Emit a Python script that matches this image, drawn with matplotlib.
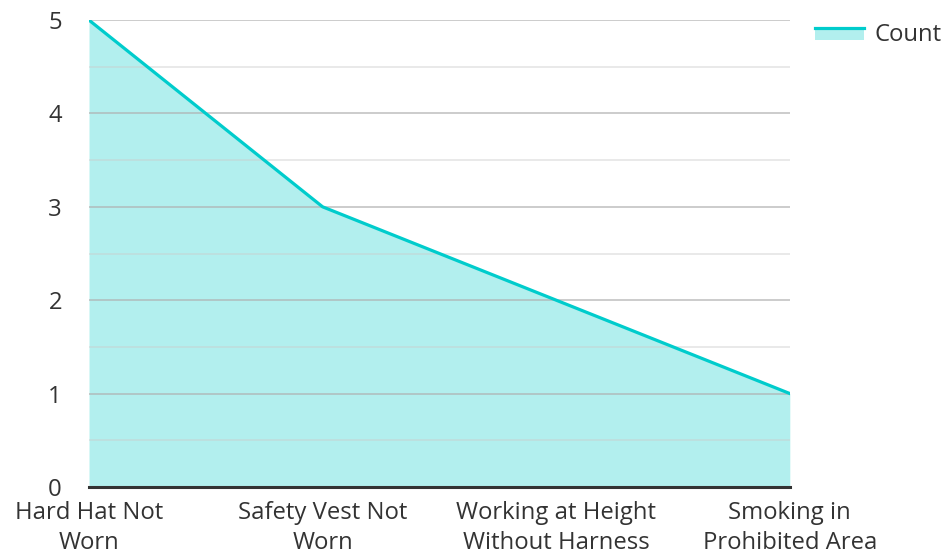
import matplotlib
matplotlib.use("Agg")
import matplotlib.pyplot as plt
from matplotlib.patches import Rectangle
from matplotlib.lines import Line2D
from matplotlib.legend_handler import HandlerBase
from matplotlib.ticker import MultipleLocator

plt.rcParams['font.family'] = ['Open Sans', 'DejaVu Sans']

categories = ["Hard Hat Not\nWorn", "Safety Vest Not\nWorn",
              "Working at Height\nWithout Harness", "Smoking in\nProhibited Area"]
counts = [5, 3, 2, 1]
series_name = "Count"

line_color = "#00cccc"
fill_color = "#b2efee"
text_color = "#333333"
font_size = 17.2


class AreaHandler(HandlerBase):
    """Legend key: a filled band with the series line along its top edge."""

    def create_artists(self, legend, orig_handle, xdescent, ydescent,
                       width, height, fontsize, trans):
        top = height * 0.8 - ydescent
        band = Rectangle((-xdescent, top - height * 0.72), width, height * 0.72,
                         facecolor=fill_color, edgecolor='none', transform=trans)
        line = Line2D([-xdescent, -xdescent + width], [top, top],
                      color=line_color, linewidth=2.3, transform=trans)
        return [band, line]


fig = plt.figure(figsize=(9.47, 5.59), dpi=100)
ax = fig.add_axes([0.094, 0.129, 0.740, 0.835])

x = list(range(len(categories)))
ax.fill_between(x, counts, 0, color=fill_color, linewidth=0, zorder=1)
ax.plot(x, counts, color=line_color, linewidth=2.3, zorder=3)

ax.set_xlim(0, len(categories) - 1)
ax.set_ylim(0, 5)
ax.yaxis.set_major_locator(MultipleLocator(1))
ax.yaxis.set_minor_locator(MultipleLocator(0.5))
ax.grid(True, which='major', axis='y', color='#b0b0b0', alpha=0.75, linewidth=1.2, zorder=2)
ax.grid(True, which='minor', axis='y', color='#cccccc', alpha=0.5, linewidth=1.2, zorder=2)
ax.set_axisbelow(False)

ax.set_xticks(x)
ax.set_xticklabels(categories, linespacing=1.3)
for s in ['top', 'right', 'left']:
    ax.spines[s].set_visible(False)
ax.spines['bottom'].set_color(text_color)
ax.spines['bottom'].set_linewidth(2.2)
ax.spines['bottom'].set_zorder(4)

ax.tick_params(axis='both', which='both', length=0, labelsize=font_size, labelcolor=text_color)
ax.tick_params(axis='y', pad=19.5)
ax.tick_params(axis='x', pad=10.5)

key = Rectangle((0, 0), 1, 1)
fig.legend([key], [series_name], handler_map={Rectangle: AreaHandler()},
           loc='upper left', bbox_to_anchor=(815 / 947, 1 - 23 / 559),
           borderaxespad=0, borderpad=0, frameon=False, fontsize=font_size,
           handlelength=2.05, handletextpad=0.42, labelcolor=text_color)

fig.savefig("out.png", dpi=100)
